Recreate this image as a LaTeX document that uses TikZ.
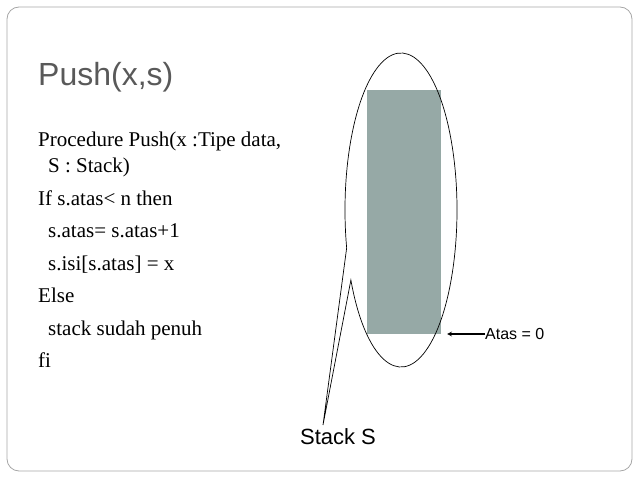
\documentclass[tikz,border=0pt]{standalone}
\usepackage{fontspec}
\usetikzlibrary{calc}
\setmainfont{Liberation Serif}
\newfontfamily\arialf{Liberation Sans}
\begin{document}
\begin{tikzpicture}[x=1pt,y=-1pt,
  body/.style={anchor=base west,inner sep=0,font=\fontsize{21}{24}\selectfont},
  lbl/.style={inner sep=0,font=\arialf\fontsize{16}{18}\selectfont}]
\useasboundingbox (0,0) rectangle (638,478);
\draw[gray!70,rounded corners=12pt,line width=0.8pt] (7,7) rectangle (632,471);
\node[anchor=base west,inner sep=0,text=black!65,font=\arialf\fontsize{32}{36}\selectfont] (title) at (38,86) {Push(x,s)};
\node[body] (l1) at (38,147) {Procedure Push(x :Tipe data,};
\node[body] (l2) at (48,173) {S : Stack)};
\node[body] (l3) at (38,206) {If s.atas< n then};
\node[body] (l4) at (48,238) {s.atas= s.atas+1};
\node[body] (l5) at (48,271) {s.isi[s.atas] = x};
\node[body] (l6) at (38,303) {Else};
\node[body] (l7) at (48,336) {stack sudah penuh};
\node[body] (l8) at (38,368) {fi};
\fill[fill={rgb,255:red,150;green,169;blue,166}] (367,90) rectangle (441,334);
\coordinate (c) at (401,210);
\coordinate (tip) at (323,425);
\draw[line width=0.7pt] ($(c)+({56*cos(-206.5)},{157*sin(-206.5)})$)
  arc[start angle=-206.5,end angle=-554,x radius=56,y radius=157] -- (tip) -- cycle;
\node[lbl,anchor=west] (atas) at (485,334) {Atas = 0};
\coordinate (aend) at (447,334);
\draw[-stealth,line width=1.2pt] (atas.west) -- (aend);
\node[lbl,font=\arialf\fontsize{22}{24}\selectfont] (stack) at (338,437) {Stack S};
\end{tikzpicture}
\end{document}
